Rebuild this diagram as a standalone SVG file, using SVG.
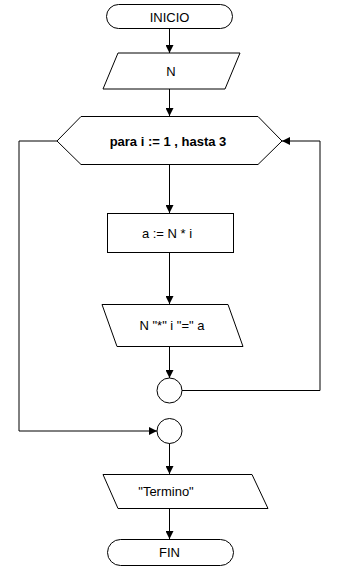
<svg xmlns="http://www.w3.org/2000/svg" width="341" height="577" viewBox="0 0 341 577">
<defs>
<marker id="ah" markerWidth="8" markerHeight="8" refX="8" refY="4" orient="auto" markerUnits="userSpaceOnUse">
<path d="M0,0 L8,4 L0,8 Z" fill="#000"/>
</marker>
<style>
.s{fill:#fff;stroke:#000;stroke-width:1}
.c{fill:none;stroke:#000;stroke-width:1}
.t{font-family:"Liberation Sans",Arial,sans-serif;font-size:13px;fill:#000;text-anchor:middle;dominant-baseline:central}
.b{font-weight:bold;font-size:13px}
</style>
</defs>
<rect width="341" height="577" fill="#fff"/>
<g id="connectors">
<path class="c" d="M169.5,28 V53" marker-end="url(#ah)"/>
<path class="c" d="M169.5,89 V116" marker-end="url(#ah)"/>
<path class="c" d="M169.5,164 V213" marker-end="url(#ah)"/>
<path class="c" d="M169.5,252 V304" marker-end="url(#ah)"/>
<path class="c" d="M169.5,346 V378" marker-end="url(#ah)"/>
<path class="c" d="M182,390.5 H320 V141 H282" marker-end="url(#ah)"/>
<path class="c" d="M57,141 H19 V431 H157" marker-end="url(#ah)"/>
<path class="c" d="M169.5,443 V474" marker-end="url(#ah)"/>
<path class="c" d="M169.5,508 V539" marker-end="url(#ah)"/>
</g>
<g id="inicio">
<rect class="s" x="106.5" y="4.5" width="126" height="24" rx="12"/>
<text class="t" x="169.5" y="17">INICIO</text>
</g>
<g id="leer_n">
<polygon class="s" points="118,53 240,53 225,89 103,89"/>
<text class="t" x="171" y="71.5">N</text>
</g>
<g id="para">
<polygon class="s" points="57,141 81,116.5 258,116.5 282,141 258,164.5 81,164.5"/>
<text class="t b" x="168" y="141">para i := 1 , hasta 3</text>
</g>
<g id="asignar">
<rect class="s" x="107.5" y="213.5" width="126" height="39"/>
<text class="t" x="167" y="233">a := N * i</text>
</g>
<g id="escribir">
<polygon class="s" points="102,304.5 228,304.5 243,346.5 117,346.5"/>
<text class="t" x="172" y="325">N "*" i "=" a</text>
</g>
<g id="circulo1">
<circle class="s" cx="169.5" cy="390.5" r="12.5"/>
</g>
<g id="circulo2">
<circle class="s" cx="169.5" cy="431" r="12.5"/>
</g>
<g id="termino">
<polygon class="s" points="103,474.5 252,474.5 268,508.5 118,508.5"/>
<text class="t" x="166" y="491">"Termino"</text>
</g>
<g id="fin">
<rect class="s" x="107.5" y="539.5" width="126" height="26" rx="13"/>
<text class="t" x="169.5" y="552.5">FIN</text>
</g>
</svg>
